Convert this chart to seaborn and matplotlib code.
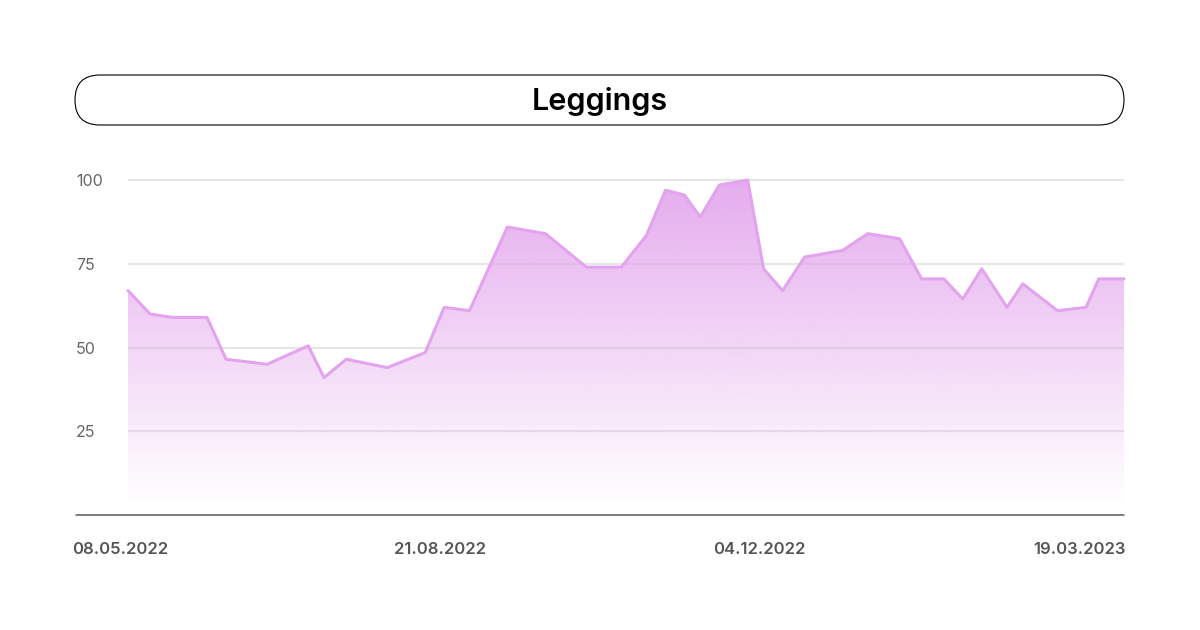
import matplotlib
matplotlib.use("Agg")
import matplotlib.pyplot as plt
import matplotlib.dates as mdates
from matplotlib.patches import FancyBboxPatch
from matplotlib.lines import Line2D
import numpy as np
import pandas as pd
import seaborn as sns

title = "Leggings"
start_date = "2022-05-08"
day_offsets = [0, 7, 14, 25, 31, 44, 57, 62, 69, 82, 94, 100, 108, 120, 132, 145, 156,
               164, 170, 176, 181, 187, 196, 201, 207, 214, 226, 234, 244, 251, 258, 264,
               270, 278, 283, 294, 303, 307, 315]
values = [67, 60, 59, 59, 46.5, 45, 50.5, 41, 46.5, 44, 48.5, 62, 61, 86, 84, 74, 74,
          83.5, 97, 95.5, 89, 98.5, 100, 73.5, 67, 77, 79, 84, 82.5, 70.5, 70.5, 64.5,
          73.5, 62, 69, 61, 62, 70.5, 70.5]
date_labels = ["08.05.2022", "21.08.2022", "04.12.2022", "19.03.2023"]
y_ticks = [25, 50, 75, 100]

df = pd.DataFrame({
    "date": pd.to_datetime(start_date) + pd.to_timedelta(day_offsets, unit="D"),
    "value": values,
})

sns.set_style("white")
plt.rcParams["font.family"] = ["Inter", "DejaVu Sans"]

line_color = "#e3a3ee"
fill_rgb = np.array([226, 162, 236]) / 255

fig = plt.figure(figsize=(12, 6.3), dpi=100)
ax = fig.add_axes([128 / 1200, 115 / 630, 996 / 1200, 345 / 630])

x0 = mdates.date2num(df["date"].iloc[0])
x1 = mdates.date2num(df["date"].iloc[-1])
ax.set_xlim(x0, x1)
ax.set_ylim(0, 103)

# gradient fill under the line
poly = ax.fill_between(df["date"], df["value"], 0, facecolor="none", edgecolor="none")
grad = np.zeros((256, 1, 4))
alpha = np.linspace(0.92, 0.0, 256)
grad[:, 0, :3] = fill_rgb
grad[:, 0, 3] = np.clip(alpha, 0, 1)
img = ax.imshow(grad, extent=[x0, x1, 3, 103], aspect="auto", origin="upper", zorder=1)
img.set_clip_path(poly.get_paths()[0], transform=ax.transData)

sns.lineplot(data=df, x="date", y="value", ax=ax, color=line_color, linewidth=2.2,
             zorder=3, clip_on=False)

ax.set_yticks(y_ticks)
ax.set_yticklabels([str(t) for t in y_ticks])
ax.yaxis.grid(True, color="#e6e6e6", linewidth=1.5, zorder=0)
ax.set_axisbelow(True)
ax.set_xticks([])
ax.set_xlabel("")
ax.set_ylabel("")
ax.tick_params(axis="y", length=0, pad=37.4, labelsize=11.5, labelcolor="#666666")
for lab in ax.get_yticklabels():
    lab.set_horizontalalignment("left")
for s in ax.spines.values():
    s.set_visible(False)

# bottom axis line
fig.add_artist(Line2D([76 / 1200, 1124 / 1200], [115 / 630, 115 / 630],
                      color="#5a5a5a", linewidth=1.1))

# date labels spread across the width
centers = np.linspace(120, 1079, len(date_labels))
for c, lab in zip(centers, date_labels):
    fig.text(c / 1200, (630 - 549) / 630, lab, ha="center", va="center",
             fontsize=12, fontweight="semibold", color="#555555")

# rounded title box
box = FancyBboxPatch((0.75, 5.05), 10.49, 0.5, boxstyle="round,pad=0,rounding_size=0.25",
                     transform=fig.dpi_scale_trans, facecolor="white",
                     edgecolor="black", linewidth=0.8)
fig.add_artist(box)
fig.text(0.5, (630 - 101) / 630, title, ha="center", va="center",
         fontsize=22, fontweight="semibold", color="black")

fig.savefig("out.png", dpi=100)
